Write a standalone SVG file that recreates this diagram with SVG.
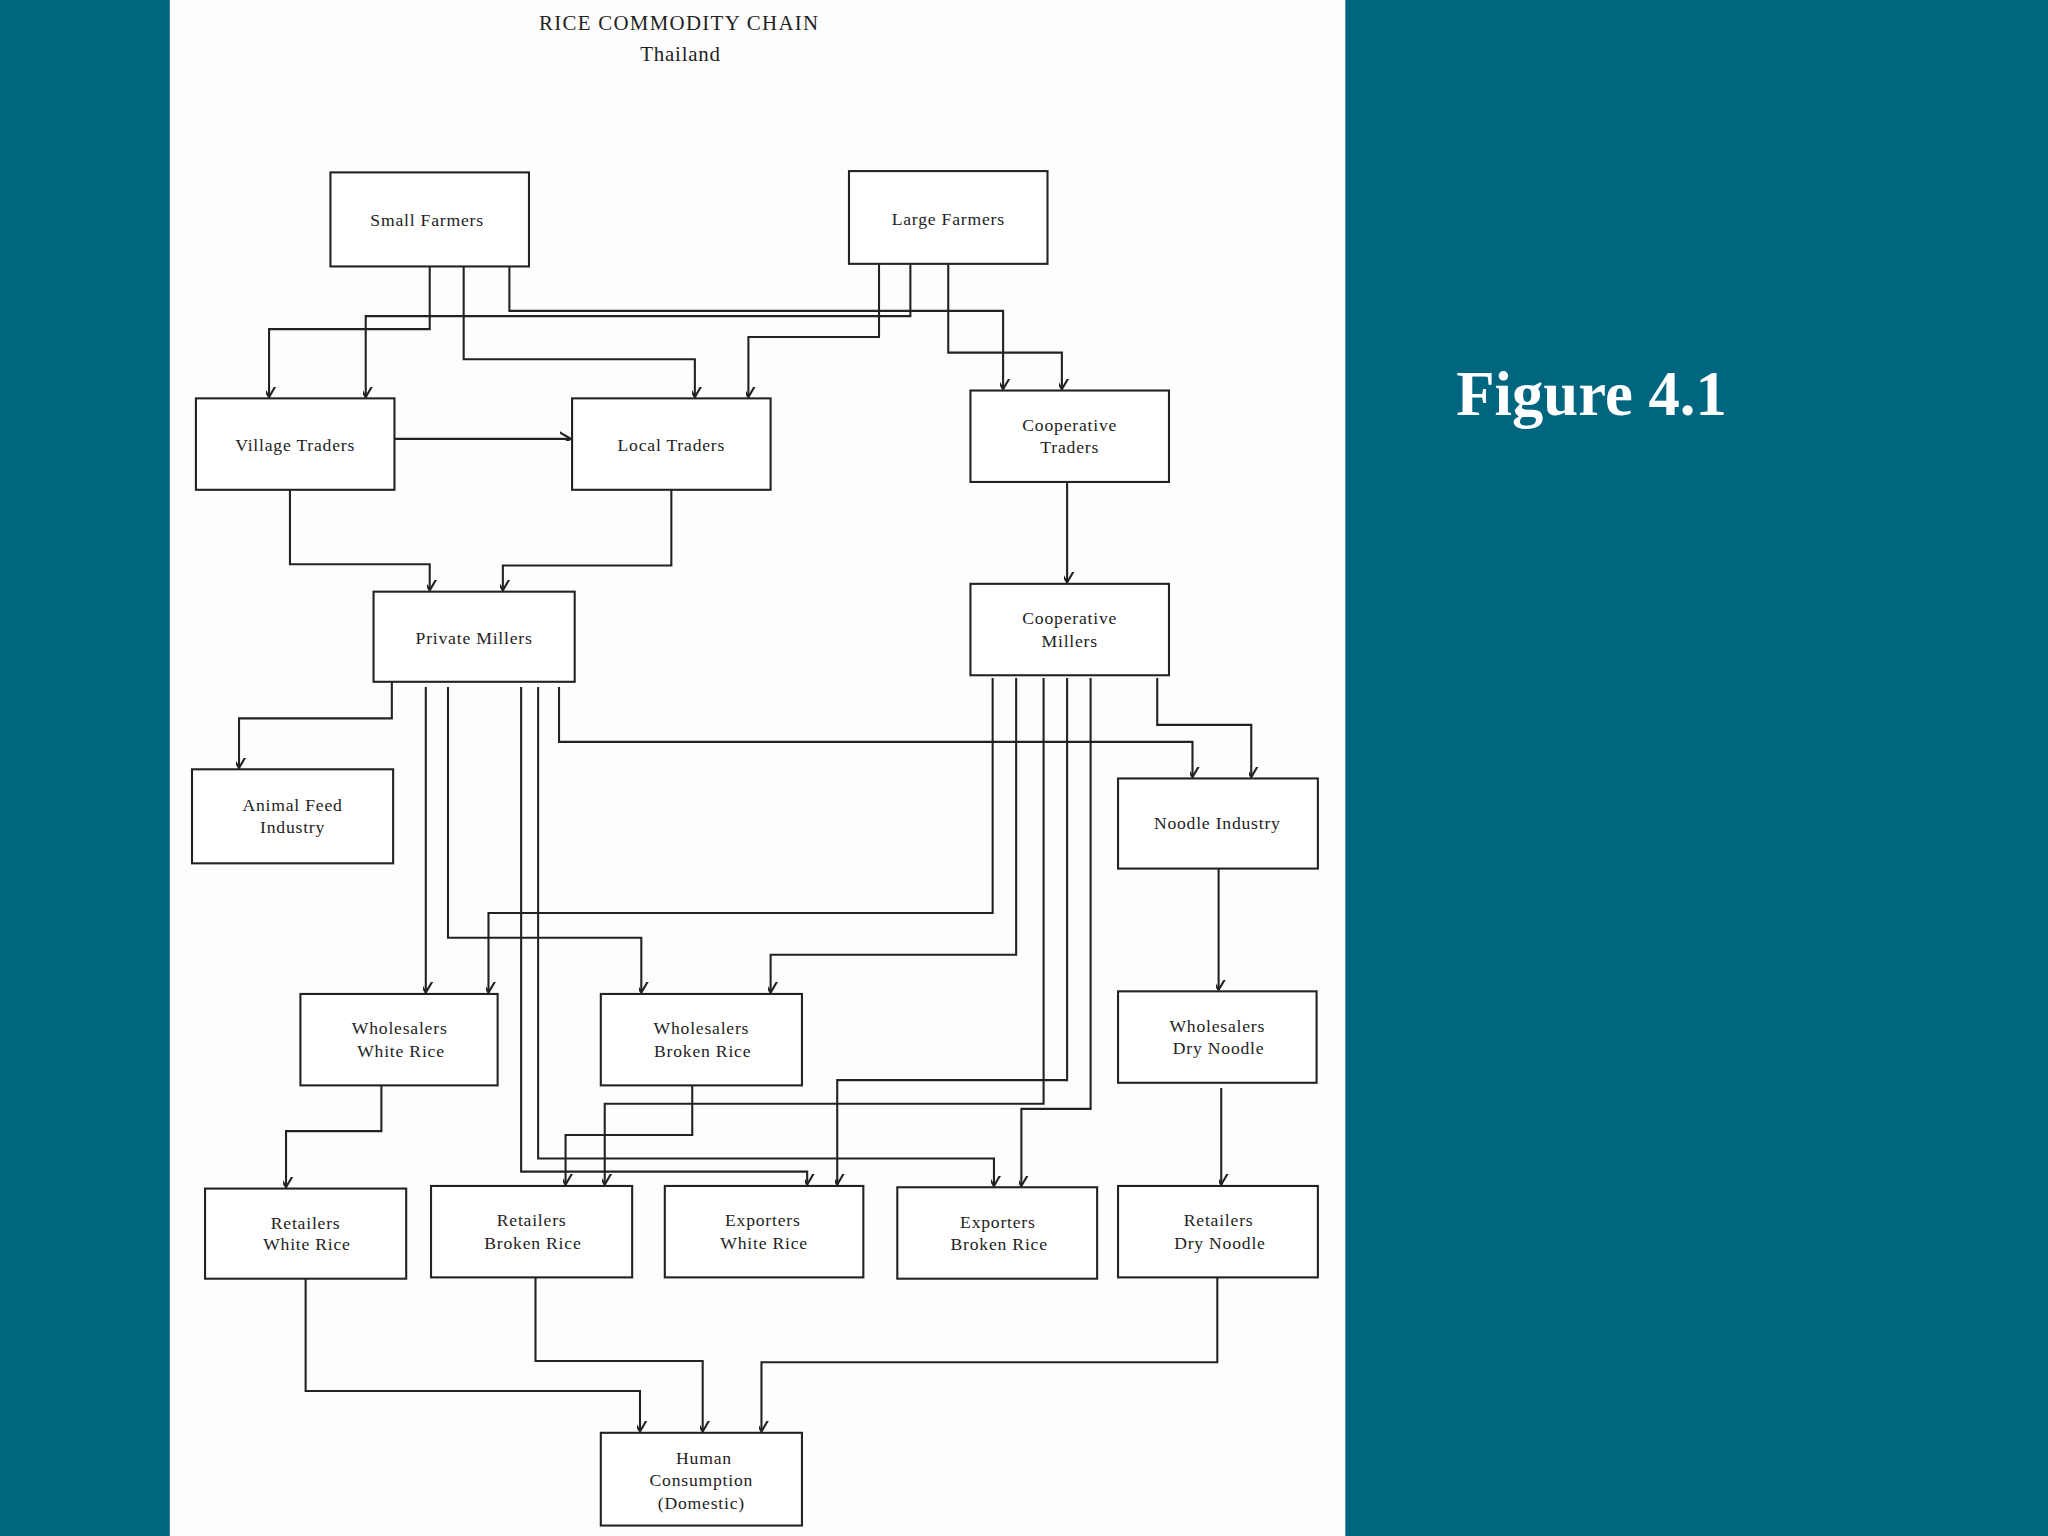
<svg xmlns="http://www.w3.org/2000/svg" width="2048" height="1536" viewBox="0 0 2048 1536">
<style>
.b{fill:#fff;stroke:#222;stroke-width:1.6}
.t{font-family:"Liberation Serif",serif;font-size:13.5px;fill:#222;text-anchor:middle;letter-spacing:0.6px}
.c{fill:none;stroke:#222;stroke-width:1.6}
</style>
<defs>
<marker id="a" markerUnits="userSpaceOnUse" markerWidth="16" markerHeight="16" viewBox="-8 -14 16 16" refX="0" refY="0" orient="auto-start-reverse">
<path d="M-7,-12 L0,0 L7,-12" fill="none" stroke="#222" stroke-width="1.6" transform="rotate(-90)"/>
</marker>
</defs>
<rect width="2048" height="1536" fill="#006680"/>
<g transform="scale(1.30612)">
<rect x="130" y="0" width="900" height="1176" fill="#fefdfd"/>
<text class="t" x="520" y="23" style="font-size:16px;letter-spacing:1px">RICE COMMODITY CHAIN</text>
<text class="t" x="521" y="47" style="font-size:16px">Thailand</text>
<g id="connectors">
<polyline class="c" marker-end="url(#a)" points="329,204 329,252 206,252 206,304"/>
<polyline class="c" marker-end="url(#a)" points="697,202 697,242 280,242 280,304"/>
<polyline class="c" marker-end="url(#a)" points="673,202 673,258 573,258 573,304"/>
<polyline class="c" marker-end="url(#a)" points="355,204 355,275 532,275 532,304"/>
<polyline class="c" marker-end="url(#a)" points="390,204 390,238 768,238 768,298"/>
<polyline class="c" marker-end="url(#a)" points="726,202 726,270 813,270 813,298"/>
<polyline class="c" marker-end="url(#a)" points="302,336 437,336"/>
<polyline class="c" marker-end="url(#a)" points="222,375 222,432 329,432 329,452"/>
<polyline class="c" marker-end="url(#a)" points="514,375 514,433 385,433 385,452"/>
<polyline class="c" marker-end="url(#a)" points="817,369 817,446"/>
<polyline class="c" marker-end="url(#a)" points="300,522 300,550 183,550 183,588"/>
<polyline class="c" marker-end="url(#a)" points="326,526 326,760"/>
<polyline class="c" marker-end="url(#a)" points="343,526 343,718 491,718 491,760"/>
<polyline class="c" marker-end="url(#a)" points="399,526 399,897 618,897 618,907"/>
<polyline class="c" marker-end="url(#a)" points="412,526 412,887 761,887 761,908"/>
<polyline class="c" marker-end="url(#a)" points="428,526 428,568 913,568 913,595"/>
<polyline class="c" marker-end="url(#a)" points="760,519 760,699 374,699 374,760"/>
<polyline class="c" marker-end="url(#a)" points="778,519 778,731 590,731 590,760"/>
<polyline class="c" marker-end="url(#a)" points="799,519 799,845 463,845 463,907"/>
<polyline class="c" marker-end="url(#a)" points="817,519 817,827 641,827 641,907"/>
<polyline class="c" marker-end="url(#a)" points="835,519 835,849 782,849 782,908"/>
<polyline class="c" marker-end="url(#a)" points="886,519 886,555 958,555 958,595"/>
<polyline class="c" marker-end="url(#a)" points="933,665 933,758"/>
<polyline class="c" marker-end="url(#a)" points="935,833 935,907"/>
<polyline class="c" marker-end="url(#a)" points="292,831 292,866 219,866 219,909"/>
<polyline class="c" marker-end="url(#a)" points="530,831 530,869 433,869 433,907"/>
<polyline class="c" marker-end="url(#a)" points="234,979 234,1065 490,1065 490,1096"/>
<polyline class="c" marker-end="url(#a)" points="410,978 410,1042 538,1042 538,1096"/>
<polyline class="c" marker-end="url(#a)" points="932,978 932,1043 583,1043 583,1096"/>
</g>
<g id="small-farmers"><rect class="b" x="253" y="132" width="152" height="72"/><text class="t" x="327" y="173">Small Farmers</text></g>
<g id="large-farmers"><rect class="b" x="650" y="131" width="152" height="71"/><text class="t" x="726" y="172">Large Farmers</text></g>
<g id="village-traders"><rect class="b" x="150" y="305" width="152" height="70"/><text class="t" x="226" y="345">Village Traders</text></g>
<g id="local-traders"><rect class="b" x="438" y="305" width="152" height="70"/><text class="t" x="514" y="345">Local Traders</text></g>
<g id="coop-traders"><rect class="b" x="743" y="299" width="152" height="70"/><text class="t" x="819" y="330">Cooperative</text><text class="t" x="819" y="347">Traders</text></g>
<g id="private-millers"><rect class="b" x="286" y="453" width="154" height="69"/><text class="t" x="363" y="493">Private Millers</text></g>
<g id="coop-millers"><rect class="b" x="743" y="447" width="152" height="70"/><text class="t" x="819" y="478">Cooperative</text><text class="t" x="819" y="495">Millers</text></g>
<g id="animal-feed"><rect class="b" x="147" y="589" width="154" height="72"/><text class="t" x="224" y="621">Animal Feed</text><text class="t" x="224" y="638">Industry</text></g>
<g id="noodle-industry"><rect class="b" x="856" y="596" width="153" height="69"/><text class="t" x="932" y="635">Noodle Industry</text></g>
<g id="wholesalers-white"><rect class="b" x="230" y="761" width="151" height="70"/><text class="t" x="306" y="792">Wholesalers</text><text class="t" x="307" y="809">White Rice</text></g>
<g id="wholesalers-broken"><rect class="b" x="460" y="761" width="154" height="70"/><text class="t" x="537" y="792">Wholesalers</text><text class="t" x="538" y="809">Broken Rice</text></g>
<g id="wholesalers-noodle"><rect class="b" x="856" y="759" width="152" height="70"/><text class="t" x="932" y="790">Wholesalers</text><text class="t" x="933" y="807">Dry Noodle</text></g>
<g id="retailers-white"><rect class="b" x="157" y="910" width="154" height="69"/><text class="t" x="234" y="941">Retailers</text><text class="t" x="235" y="957">White Rice</text></g>
<g id="retailers-broken"><rect class="b" x="330" y="908" width="154" height="70"/><text class="t" x="407" y="939">Retailers</text><text class="t" x="408" y="956">Broken Rice</text></g>
<g id="exporters-white"><rect class="b" x="509" y="908" width="152" height="70"/><text class="t" x="584" y="939">Exporters</text><text class="t" x="585" y="956">White Rice</text></g>
<g id="exporters-broken"><rect class="b" x="687" y="909" width="153" height="70"/><text class="t" x="764" y="940">Exporters</text><text class="t" x="765" y="957">Broken Rice</text></g>
<g id="retailers-noodle"><rect class="b" x="856" y="908" width="153" height="70"/><text class="t" x="933" y="939">Retailers</text><text class="t" x="934" y="956">Dry Noodle</text></g>
<g id="human-consumption"><rect class="b" x="460" y="1097" width="154" height="71"/><text class="t" x="539" y="1121">Human</text><text class="t" x="537" y="1138">Consumption</text><text class="t" x="537" y="1155">(Domestic)</text></g>
<text x="1115" y="318" style="font-family:'Liberation Serif',serif;font-weight:bold;font-size:48px;fill:#fff">Figure 4.1</text>
</g>
</svg>
